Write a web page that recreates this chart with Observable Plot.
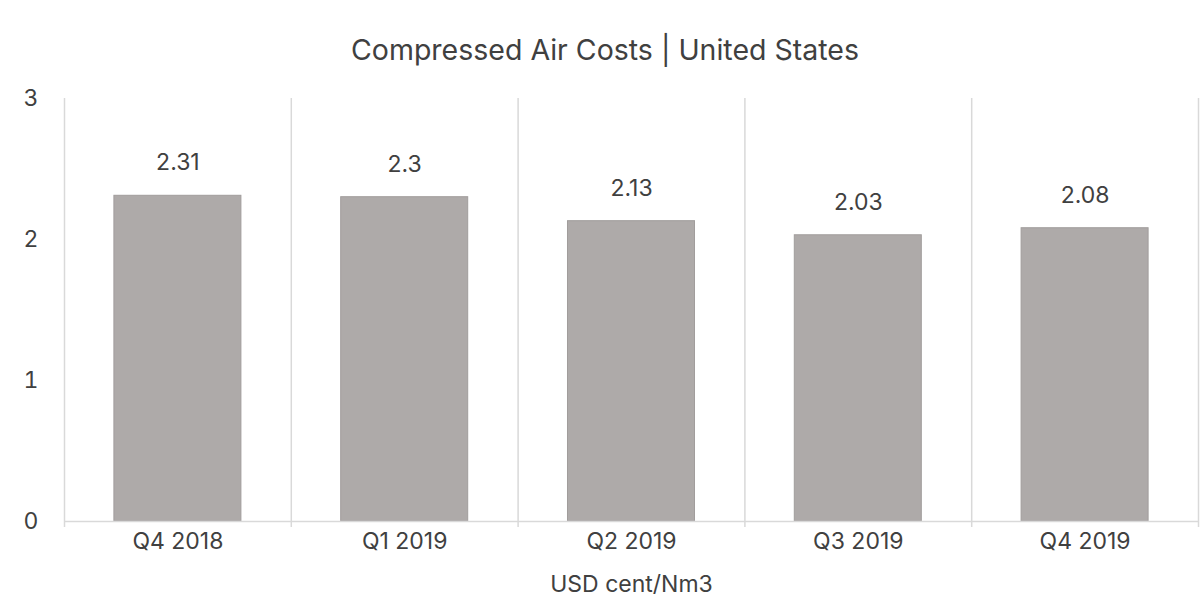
<!DOCTYPE html>
<html>
<head>
<meta charset="utf-8">
<script src="https://cdn.jsdelivr.net/npm/d3@7"></script>
<script src="https://cdn.jsdelivr.net/npm/@observablehq/plot@0.6"></script>
<style>
  html, body { margin: 0; padding: 0; background: #fff; }
  body { width: 1200px; height: 615px; overflow: hidden; font-family: Inter, "Open Sans", sans-serif; }
  #title { height: 80px; line-height: 100px; text-align: center; font-size: 28.5px; color: #404040; padding-left: 10px; box-sizing: border-box; }
  #chart svg { display: block; }
</style>
</head>
<body>
<div id="title">Compressed Air Costs | United States</div>
<div id="chart"></div>
<script>
const quarters = ["Q4 2018", "Q1 2019", "Q2 2019", "Q3 2019", "Q4 2019"];
const costs = [2.31, 2.3, 2.13, 2.03, 2.08];
const yTicks = [0, 1, 2, 3];
const xLabel = "USD cent/Nm3";

const data = quarters.map((q, i) => ({quarter: q, cost: costs[i]}));

const W = 1200, H = 535;
const mL = 64, mR = 2;
const step = (W - mL - mR) / quarters.length;

const chart = Plot.plot({
  width: W,
  height: H,
  marginTop: 18,
  marginBottom: 94,
  marginLeft: mL,
  marginRight: mR,
  style: {fontFamily: "Inter, 'Open Sans', sans-serif", fontSize: "23px", color: "#404040", background: "#fff"},
  x: {domain: quarters, paddingInner: 0.44, paddingOuter: 0.22, round: false, label: null},
  y: {domain: [0, 3], ticks: yTicks, label: null},
  marks: [
    Plot.ruleX(quarters, {x: d => d, dx: -step / 2, stroke: "#d9d9d9", strokeWidth: 1.5, insetBottom: -6}),
    Plot.ruleX([quarters[quarters.length - 1]], {x: d => d, dx: step / 2, stroke: "#d9d9d9", strokeWidth: 1.5, insetBottom: -6}),
    Plot.barY(data, {x: "quarter", y: "cost", fill: "#aeaaa9", stroke: "#a19d9c", strokeWidth: 1}),
    Plot.ruleY([0], {stroke: "#d9d9d9", strokeWidth: 1.5}),
    Plot.text(data, {x: "quarter", y: "cost", text: d => String(d.cost), dy: -33, fontSize: 23, fill: "#404040"}),
    Plot.axisY({ticks: yTicks, tickSize: 0, tickPadding: 26, fontSize: 23, tickFormat: d => String(d), label: null, color: "#404040"}),
    Plot.axisX({tickSize: 0, tickPadding: 11, fontSize: 23, label: null, color: "#404040"}),
    Plot.text([xLabel], {frameAnchor: "bottom", dy: 70, text: d => d, fontSize: 23, fill: "#404040"})
  ]
});
document.getElementById("chart").appendChild(chart);
</script>
</body>
</html>
